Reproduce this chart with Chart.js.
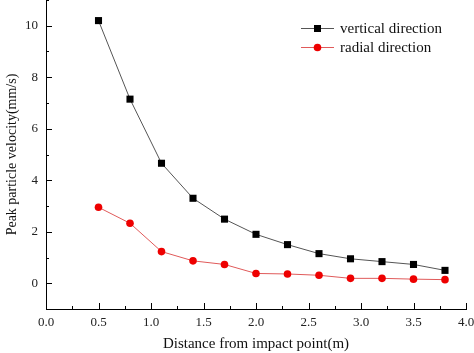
<!DOCTYPE html>
<html>
<head>
<meta charset="utf-8">
<script src="https://cdn.jsdelivr.net/npm/chart.js@4/dist/chart.umd.min.js"></script>
<style>
  html, body { margin: 0; padding: 0; background: #fff; }
  #wrap { width: 474px; height: 353px; }
</style>
</head>
<body>
<div id="wrap"><canvas id="grafico"></canvas></div>
<script>
const distancias = [0.5, 0.8, 1.1, 1.4, 1.7, 2.0, 2.3, 2.6, 2.9, 3.2, 3.5, 3.8];
const vertical = [10.2, 7.15, 4.66, 3.3, 2.49, 1.9, 1.5, 1.15, 0.95, 0.84, 0.73, 0.5];
const radial = [2.95, 2.33, 1.23, 0.87, 0.73, 0.38, 0.36, 0.31, 0.19, 0.19, 0.16, 0.14];
const yTicks = [0, 2, 4, 6, 8, 10];
const FONT = "'Liberation Serif', 'Times New Roman', serif";

const toPoints = (vals) => vals.map((v, i) => ({ x: distancias[i], y: v }));

// inward major/minor ticks like the original plot
const tickMarks = {
  id: 'tickMarks',
  afterDraw(chart) {
    const { ctx, chartArea, scales } = chart;
    ctx.save();
    ctx.strokeStyle = '#000';
    ctx.lineWidth = 1;
    ctx.beginPath();
    for (let v = 0; v <= 4.0001; v += 0.25) {
      const px = Math.round(scales.x.getPixelForValue(v)) + 0.5;
      const major = Math.abs(v * 2 - Math.round(v * 2)) < 1e-6;
      ctx.moveTo(px, chartArea.bottom);
      ctx.lineTo(px, chartArea.bottom - (major ? 6 : 3));
    }
    for (let v = 0; v <= 11; v++) {
      const py = Math.round(scales.y.getPixelForValue(v)) + 0.5;
      ctx.moveTo(chartArea.left, py);
      ctx.lineTo(chartArea.left + (v % 2 === 0 ? 6 : 3), py);
    }
    ctx.stroke();
    ctx.restore();
  }
};

// legend drawn inside the plot, top right
const leyenda = {
  id: 'leyenda',
  afterDraw(chart) {
    const { ctx } = chart;
    const x0 = 301, x1 = 334, tx = 340;
    const rows = [28, 47];
    ctx.save();
    chart.data.datasets.forEach((ds, i) => {
      const y = rows[i];
      ctx.strokeStyle = ds.borderColor;
      ctx.lineWidth = 1;
      ctx.beginPath();
      ctx.moveTo(x0, y + 0.5);
      ctx.lineTo(x1, y + 0.5);
      ctx.stroke();
      ctx.fillStyle = ds.pointBackgroundColor;
      const cx = (x0 + x1) / 2;
      if (ds.pointStyle === 'rect') {
        ctx.fillRect(cx - 3.5, y - 3, 7, 7);
      } else {
        ctx.beginPath();
        ctx.arc(cx, y + 0.5, 3.8, 0, Math.PI * 2);
        ctx.fill();
      }
      ctx.fillStyle = '#111';
      ctx.font = '15px ' + FONT;
      ctx.textBaseline = 'middle';
      ctx.fillText(ds.label, tx, y + 1);
    });
    ctx.restore();
  }
};

new Chart(document.getElementById('grafico').getContext('2d'), {
  type: 'line',
  data: {
    datasets: [
      {
        label: 'vertical direction',
        data: toPoints(vertical),
        borderColor: '#555',
        borderWidth: 1,
        pointStyle: 'rect',
        pointRadius: 5,
        pointBackgroundColor: '#000',
        pointBorderColor: '#000',
        pointBorderWidth: 0
      },
      {
        label: 'radial direction',
        data: toPoints(radial),
        borderColor: '#e05a5a',
        borderWidth: 1,
        pointStyle: 'circle',
        pointRadius: 3.8,
        pointBackgroundColor: '#ee0000',
        pointBorderColor: '#ee0000',
        pointBorderWidth: 0
      }
    ]
  },
  options: {
    responsive: true,
    maintainAspectRatio: false,
    animation: false,
    layout: { autoPadding: false, padding: { top: 0, right: 8, left: 0, bottom: 0 } },
    plugins: {
      legend: { display: false },
      tooltip: { enabled: false }
    },
    scales: {
      x: {
        type: 'linear',
        min: 0,
        max: 4,
        grid: { display: false, drawTicks: false },
        border: { display: true, color: '#000', width: 1 },
        ticks: {
          stepSize: 0.5,
          padding: 6,
          color: '#222',
          font: { family: FONT, size: 13 },
          callback: (v) => Number(v).toFixed(1),
          maxRotation: 0
        },
        title: {
          display: true,
          text: 'Distance from impact point(m)',
          color: '#111',
          font: { family: FONT, size: 15 },
          padding: { top: 4, bottom: 0 }
        },
        afterFit: (scale) => {
          scale.height = 44;
          scale.paddingLeft = 0;
          scale.paddingRight = 0;
        }
      },
      y: {
        min: -1,
        max: 11,
        grid: { display: false, drawTicks: false },
        border: { display: true, color: '#000', width: 1 },
        afterBuildTicks: (scale) => {
          scale.ticks = yTicks.map(v => ({ value: v }));
        },
        ticks: {
          padding: 8,
          color: '#222',
          font: { family: FONT, size: 13 }
        },
        title: {
          display: true,
          text: 'Peak particle velocity(mm/s)',
          color: '#111',
          font: { family: FONT, size: 14 },
          padding: { top: 4, bottom: 0 }
        },
        afterFit: (scale) => {
          scale.width = 46;
          scale.paddingTop = 0;
          scale.paddingBottom = 0;
        }
      }
    }
  },
  plugins: [tickMarks, leyenda]
});
</script>
</body>
</html>
